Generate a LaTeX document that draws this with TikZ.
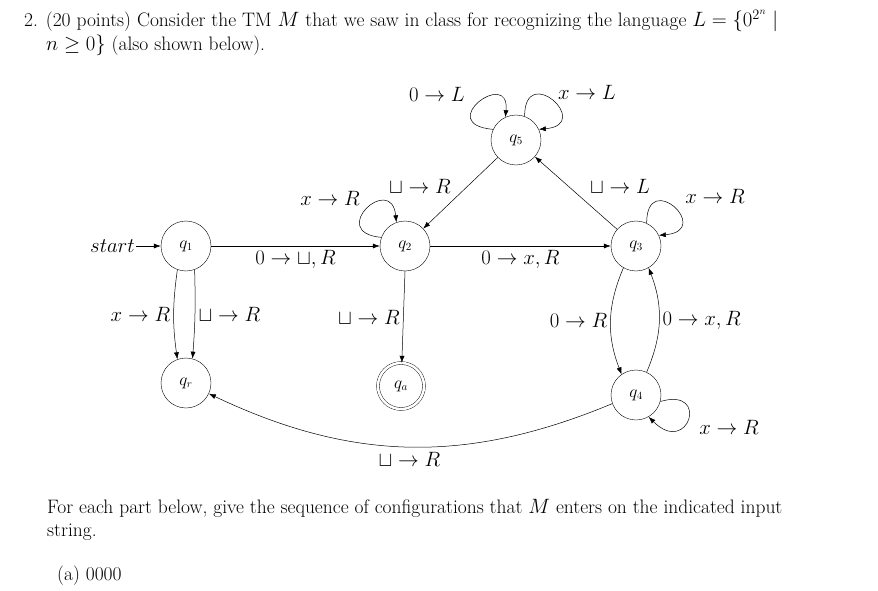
\documentclass[tikz,border=0pt]{standalone}
\usetikzlibrary{arrows.meta}
\begin{document}
\begin{tikzpicture}[x=1pt,y=-1pt,
  st/.style={circle,draw,minimum size=50pt,inner sep=0pt,font=\fontsize{16}{18}\selectfont},
  acc/.style={st,double,double distance=2.5pt,minimum size=46pt},
  e/.style={-{Latex[length=7pt,width=5pt]},line width=0.5pt},
  lb/.style={font=\fontsize{20}{22}\selectfont},
  tx/.style={anchor=base west,inner sep=0pt,font=\fontsize{19.5}{22}\selectfont}]
\useasboundingbox (0,0) rectangle (878,591);
\node[tx] (t1) at (24,27) {2. (20 points) Consider the TM $M$ that we saw in class for recognizing the language $L=\{0^{2^n}\mid$};
\node[tx] (t2) at (46,51) {$n\ge 0\}$ (also shown below).};
\node[tx] (t3) at (47,513) {For each part below, give the sequence of configurations that $M$ enters on the indicated input};
\node[tx] (t4) at (47,536) {string.};
\node[tx] (t5) at (57,580) {(a) 0000};

\node[st] (q1) at (186,246) {$q_1$};
\node[st] (q2) at (405,246) {$q_2$};
\node[st] (q3) at (636,246) {$q_3$};
\node[st] (q5) at (516,140) {$q_5$};
\node[st] (qr) at (186,383) {$q_r$};
\node[acc] (qa) at (401,386) {$q_a$};
\node[st] (q4) at (636,395) {$q_4$};
\coordinate (s) at (136,246);
\node[lb,anchor=east,inner sep=1pt] (slab) at (s) {$start$};

\draw[e] (s) -- (q1);
\draw[e] (q1) -- node[lb,below=1pt] {$0\rightarrow\sqcup,R$} (q2);
\draw[e] (q2) -- node[lb,below=1pt] {$0\rightarrow x,R$} (q3);
\draw[e] (q1.250) to[bend right=8] node[lb,left] {$x\rightarrow R$} (qr.110);
\draw[e] (q1.290) to[bend left=3] node[lb,right] {$\sqcup\rightarrow R$} (qr.75);
\draw[e] (q2.270) -- node[lb,left] {$\sqcup\rightarrow R$} (qa);
\draw[e] (q5) -- (q2);
\draw[e] (q3) -- (q5);
\node[lb] (l52) at (420,186) {$\sqcup\rightarrow R$};
\node[lb] (l35) at (620,186) {$\sqcup\rightarrow L$};
\draw[e] (q3.240) to[bend right=22] node[lb,left] {$0\rightarrow R$} (q4.125);
\draw[e] (q4.65) to[bend right=22] node[lb,right] {$0\rightarrow x,R$} (q3.300);
\draw[e] (q4.200) to[bend left=24] node[lb,below=2pt] {$\sqcup\rightarrow R$} (qr.-25);
\draw[e] (q2.160) .. controls +(-55,-5) and +(-5,-50) .. (q2.110);
\draw[e] (q5.155) .. controls +(-60,-5) and +(5,-50) .. (q5.115);
\draw[e] (q5.70) .. controls +(0,-55) and +(55,-5) .. (q5.25);
\draw[e] (q3.65) .. controls +(0,-55) and +(55,-5) .. (q3.25);
\draw[e] (q4.-15) .. controls +(50,-15) and +(40,40) .. (q4.-60);
\node[lb] (l5a) at (437,94) {$0\rightarrow L$};
\node[lb] (l5b) at (587,92) {$x\rightarrow L$};
\node[lb] (l2) at (330,198) {$x\rightarrow R$};
\node[lb] (l3) at (715,196) {$x\rightarrow R$};
\node[lb] (l4) at (729,427) {$x\rightarrow R$};
\end{tikzpicture}
\end{document}
